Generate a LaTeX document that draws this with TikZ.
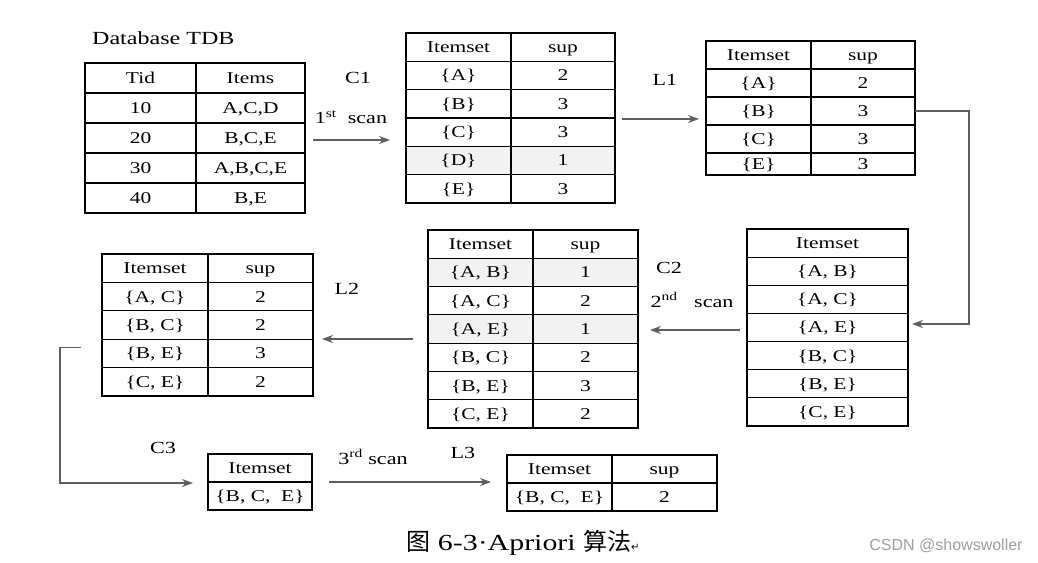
\documentclass[tikz,border=0pt]{standalone}
\usepackage{fontspec}
\setmainfont{Liberation Serif}[FakeStretch=1.3]
\newfontfamily\cjk{Noto Sans CJK SC}
\newfontfamily\wmfont{Liberation Sans}
\newfontfamily\dejavu{DejaVu Sans}
\usetikzlibrary{arrows.meta,calc}
\definecolor{shade}{HTML}{F2F2F2}
\definecolor{conncol}{HTML}{5F5F5F}
\tikzset{
  cell/.style={draw=black, line width=1.1pt, anchor=north west, inner sep=0pt, outer sep=0pt, font=\fontsize{16.5}{16.5}\selectfont, text height=12.7pt, text depth=1.8pt},
  lbl/.style={font=\fontsize{17}{17}\selectfont, inner sep=0pt},
  conn/.style={draw=conncol, line width=1.3pt, -{Stealth[length=11pt,width=8pt]}},
}
\newcommand\tcell[7][]{\node[cell,#1,minimum width=#5pt,minimum height=#6pt] (#2) at (#3,#4) {#7};}
\begin{document}
\begin{tikzpicture}[x=1pt,y=-1pt]
\useasboundingbox[fill=white] (0,0) rectangle (1038,562);

% Database TDB
\node[lbl, anchor=west, font=\fontsize{18.5}{18.5}\selectfont] (tdbtitle) at (92,38) {Database TDB};
\tcell{tdb-0-1}{85}{63}{111}{30}{Tid}
\tcell{tdb-0-2}{196}{63}{109}{30}{Items}
\tcell{tdb-1-1}{85}{93}{111}{30}{10}
\tcell{tdb-1-2}{196}{93}{109}{30}{A,C,D}
\tcell{tdb-2-1}{85}{123}{111}{30}{20}
\tcell{tdb-2-2}{196}{123}{109}{30}{B,C,E}
\tcell{tdb-3-1}{85}{153}{111}{30}{30}
\tcell{tdb-3-2}{196}{153}{109}{30}{A,B,C,E}
\tcell{tdb-4-1}{85}{183}{111}{30}{40}
\tcell{tdb-4-2}{196}{183}{109}{30}{B,E}

% C1
\tcell{c1-0-1}{406}{33}{105}{28.33}{Itemset}
\tcell{c1-0-2}{511}{33}{104}{28.33}{sup}
\tcell{c1-1-1}{406}{61.33}{105}{28.33}{\{A\}}
\tcell{c1-1-2}{511}{61.33}{104}{28.33}{2}
\tcell{c1-2-1}{406}{89.67}{105}{28.33}{\{B\}}
\tcell{c1-2-2}{511}{89.67}{104}{28.33}{3}
\tcell{c1-3-1}{406}{118}{105}{28.33}{\{C\}}
\tcell{c1-3-2}{511}{118}{104}{28.33}{3}
\tcell[fill=shade]{c1-4-1}{406}{146.33}{105}{28.33}{\{D\}}
\tcell[fill=shade]{c1-4-2}{511}{146.33}{104}{28.33}{1}
\tcell{c1-5-1}{406}{174.67}{105}{28.33}{\{E\}}
\tcell{c1-5-2}{511}{174.67}{104}{28.33}{3}

% L1
\tcell{l1-0-1}{706}{41}{105}{28}{Itemset}
\tcell{l1-0-2}{811}{41}{104}{28}{sup}
\tcell{l1-1-1}{706}{69}{105}{28}{\{A\}}
\tcell{l1-1-2}{811}{69}{104}{28}{2}
\tcell{l1-2-1}{706}{97}{105}{28}{\{B\}}
\tcell{l1-2-2}{811}{97}{104}{28}{3}
\tcell{l1-3-1}{706}{125}{105}{28}{\{C\}}
\tcell{l1-3-2}{811}{125}{104}{28}{3}
\tcell{l1-4-1}{706}{153}{105}{22}{\{E\}}
\tcell{l1-4-2}{811}{153}{104}{22}{3}

% C2 (right, itemsets only)
\tcell{c2r-0-1}{747}{229}{161}{28.14}{Itemset}
\tcell{c2r-1-1}{747}{257.14}{161}{28.14}{\{A, B\}}
\tcell{c2r-2-1}{747}{285.29}{161}{28.14}{\{A, C\}}
\tcell{c2r-3-1}{747}{313.43}{161}{28.14}{\{A, E\}}
\tcell{c2r-4-1}{747}{341.57}{161}{28.14}{\{B, C\}}
\tcell{c2r-5-1}{747}{369.71}{161}{28.14}{\{B, E\}}
\tcell{c2r-6-1}{747}{397.86}{161}{28.14}{\{C, E\}}

% C2 (left, with support)
\tcell{c2l-0-1}{428}{230}{105}{28.29}{Itemset}
\tcell{c2l-0-2}{533}{230}{105}{28.29}{sup}
\tcell[fill=shade]{c2l-1-1}{428}{258.29}{105}{28.29}{\{A, B\}}
\tcell[fill=shade]{c2l-1-2}{533}{258.29}{105}{28.29}{1}
\tcell{c2l-2-1}{428}{286.57}{105}{28.29}{\{A, C\}}
\tcell{c2l-2-2}{533}{286.57}{105}{28.29}{2}
\tcell[fill=shade]{c2l-3-1}{428}{314.86}{105}{28.29}{\{A, E\}}
\tcell[fill=shade]{c2l-3-2}{533}{314.86}{105}{28.29}{1}
\tcell{c2l-4-1}{428}{343.14}{105}{28.29}{\{B, C\}}
\tcell{c2l-4-2}{533}{343.14}{105}{28.29}{2}
\tcell{c2l-5-1}{428}{371.43}{105}{28.29}{\{B, E\}}
\tcell{c2l-5-2}{533}{371.43}{105}{28.29}{3}
\tcell{c2l-6-1}{428}{399.71}{105}{28.29}{\{C, E\}}
\tcell{c2l-6-2}{533}{399.71}{105}{28.29}{2}

% L2
\tcell{l2-0-1}{102}{254}{106}{28.4}{Itemset}
\tcell{l2-0-2}{208}{254}{105}{28.4}{sup}
\tcell{l2-1-1}{102}{282.4}{106}{28.4}{\{A, C\}}
\tcell{l2-1-2}{208}{282.4}{105}{28.4}{2}
\tcell{l2-2-1}{102}{310.8}{106}{28.4}{\{B, C\}}
\tcell{l2-2-2}{208}{310.8}{105}{28.4}{2}
\tcell{l2-3-1}{102}{339.2}{106}{28.4}{\{B, E\}}
\tcell{l2-3-2}{208}{339.2}{105}{28.4}{3}
\tcell{l2-4-1}{102}{367.6}{106}{28.4}{\{C, E\}}
\tcell{l2-4-2}{208}{367.6}{105}{28.4}{2}

% C3
\tcell{c3-0-1}{208}{454}{104}{28}{Itemset}
\tcell{c3-1-1}{208}{482}{104}{28}{\{B, C,\ \ E\}}

% L3
\tcell{l3-0-1}{507}{455}{105}{28}{Itemset}
\tcell{l3-0-2}{612}{455}{105}{28}{sup}
\tcell{l3-1-1}{507}{483}{105}{28}{\{B, C,\ \ E\}}
\tcell{l3-1-2}{612}{483}{105}{28}{2}

% labels
\node[lbl] (c1lbl) at (358,78) {C1};
\node[lbl] (scan1) at (351,117) {1\textsuperscript{st}\ \ scan};
\node[lbl] (l1lbl) at (665,80) {L1};
\node[lbl] (c2lbl) at (669,268) {C2};
\node[lbl] (scan2) at (692,300) {2\textsuperscript{nd}\ \ \ scan};
\node[lbl] (l2lbl) at (347,289) {L2};
\node[lbl] (c3lbl) at (163,448) {C3};
\node[lbl] (scan3) at (373,457) {3\textsuperscript{rd} scan};
\node[lbl] (l3lbl) at (463,453) {L3};

% connectors
\draw[conn] ($(tdb-2-2.east)+(8,2)$) -- ($(tdb-2-2.east -| c1-0-1.west)+(-16,2)$);
\draw[conn] ($(l1-2-1.west -| c1-0-2.east)+(7,8)$) -- ($(l1-2-1.west)+(-7,8)$);
\draw[conn] (l1-2-2.east) -- ++(54,0) |- ($(c2r-3-1.east)+(4,-3.5)$);
\draw[conn] ($(c2l-3-2.east -| c2r-3-1.west)+(-7,1)$) -- ($(c2l-3-2.east)+(12,1)$);
\draw[conn] ($(c2l-3-1.west)+(-15,10)$) -- ($(c2l-3-1.west -| l2-0-2.east)+(9,10)$);
\draw[conn] ($(l2-3-1.west)+(-21,-6)$) -- ($(l2-3-1.west)+(-42,-6)$) |- ($(c3-0-1.south west)+(-15,1)$);
\draw[conn] ($(c3-0-1.south east)+(17,0)$) -- ($(c3-0-1.south east -| l3-0-1.west)+(-16,0)$);

% caption and watermark
\node[font=\fontsize{23}{23}\selectfont, inner sep=0pt] (caption) at (523,543) {{\cjk\fontsize{24}{24}\selectfont 图} 6-3·Apriori {\cjk\fontsize{24}{24}\selectfont 算法}{\dejavu\fontsize{10}{10}\selectfont ↵}};
\node[font=\wmfont\fontsize{16}{16}\selectfont, text=gray!75, inner sep=0pt] (wm) at (946,546) {CSDN @showswoller};
\end{tikzpicture}
\end{document}
